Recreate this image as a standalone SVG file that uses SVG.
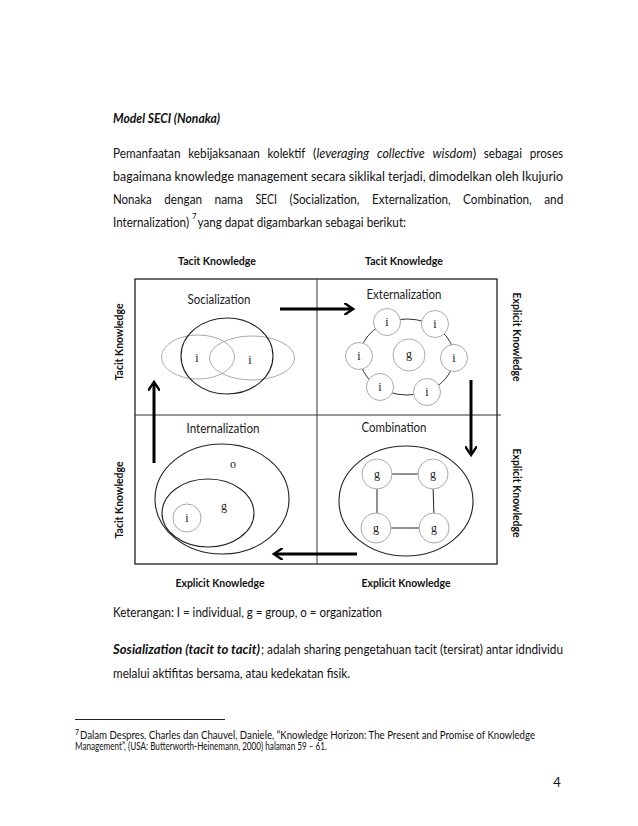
<svg xmlns="http://www.w3.org/2000/svg" width="638" height="826" viewBox="0 0 638 826">
<style>
.body{font-family:Lato,"Liberation Sans",Arial,sans-serif;font-size:13px;fill:#111}
.sup{font-family:Lato,"Liberation Sans",Arial,sans-serif;font-size:8px;fill:#111}
.it{font-style:italic}
.bi{font-style:italic;font-weight:bold}
.ax{font-family:Lato,"Liberation Sans",Arial,sans-serif;font-size:11px;font-weight:bold;fill:#111}
.ql{font-family:Lato,"Liberation Sans",Arial,sans-serif;font-size:12.5px;fill:#222}
.nd{font-family:"Liberation Serif","Times New Roman",serif;font-size:12px;fill:#222}
.fn{font-family:Lato,"Liberation Sans",Arial,sans-serif;font-size:10.5px;fill:#111}
.frame{fill:none;stroke:#222;stroke-width:1.3}
.grid{stroke:#333;stroke-width:1}
.lc{fill:#fff;stroke:#aaa;stroke-width:1}
.dk{fill:none;stroke:#222;stroke-width:1.1}
.arr{stroke:#000;stroke-width:3;fill:none;marker-end:url(#ah)}
</style>
<defs>
<marker id="ah" markerWidth="4" markerHeight="4" refX="2.6" refY="2" orient="auto" markerUnits="strokeWidth">
<path d="M0,0 L3,2 L0,4" fill="none" stroke="#000" stroke-width="0.8"/>
</marker>
</defs>
<rect width="638" height="826" fill="#fff"/>

<g id="text-top">
<text class="body bi" x="113" y="123" textLength="107" lengthAdjust="spacingAndGlyphs">Model SECI (Nonaka)</text>
<g id="line1">
<text class="body" x="113" y="158" textLength="67.5" lengthAdjust="spacingAndGlyphs">Pemanfaatan</text>
<text class="body" x="188.2" y="158" textLength="71.7" lengthAdjust="spacingAndGlyphs">kebijaksanaan</text>
<text class="body" x="267.6" y="158" textLength="37.8" lengthAdjust="spacingAndGlyphs">kolektif</text>
<text class="body" x="313.1" y="158" textLength="56.1" lengthAdjust="spacingAndGlyphs">(<tspan class="it">leveraging</tspan></text>
<text class="body it" x="376.9" y="158" textLength="47.9" lengthAdjust="spacingAndGlyphs">collective</text>
<text class="body" x="432.5" y="158" textLength="43.5" lengthAdjust="spacingAndGlyphs"><tspan class="it">wisdom</tspan>)</text>
<text class="body" x="483.7" y="158" textLength="38.3" lengthAdjust="spacingAndGlyphs">sebagai</text>
<text class="body" x="529.7" y="158" textLength="33.4" lengthAdjust="spacingAndGlyphs">proses</text>
</g>
<text class="body" x="113" y="181" textLength="450" lengthAdjust="spacingAndGlyphs">bagaimana knowledge management secara siklikal terjadi, dimodelkan oleh Ikujurio</text>
<g id="line3">
<text class="body" x="113" y="204" textLength="38.8" lengthAdjust="spacingAndGlyphs">Nonaka</text>
<text class="body" x="164.3" y="204" textLength="37.7" lengthAdjust="spacingAndGlyphs">dengan</text>
<text class="body" x="214.5" y="204" textLength="28.4" lengthAdjust="spacingAndGlyphs">nama</text>
<text class="body" x="255.4" y="204" textLength="21.6" lengthAdjust="spacingAndGlyphs">SECI</text>
<text class="body" x="289.5" y="204" textLength="70" lengthAdjust="spacingAndGlyphs">(Socialization,</text>
<text class="body" x="372" y="204" textLength="78.6" lengthAdjust="spacingAndGlyphs">Externalization,</text>
<text class="body" x="463.1" y="204" textLength="68.6" lengthAdjust="spacingAndGlyphs">Combination,</text>
<text class="body" x="544.2" y="204" textLength="19.1" lengthAdjust="spacingAndGlyphs">and</text>
</g>
<text class="body" x="113" y="227" textLength="76" lengthAdjust="spacingAndGlyphs">Internalization)</text>
<text class="sup" x="192" y="219">7</text>
<text class="body" x="197.5" y="227" textLength="208.5" lengthAdjust="spacingAndGlyphs">yang dapat digambarkan sebagai berikut:</text>
</g>

<g id="axes">
<text class="ax" x="217" y="265" text-anchor="middle" textLength="78" lengthAdjust="spacingAndGlyphs">Tacit Knowledge</text>
<text class="ax" x="404" y="265" text-anchor="middle" textLength="78" lengthAdjust="spacingAndGlyphs">Tacit Knowledge</text>
<text class="ax" x="220" y="587" text-anchor="middle" textLength="89" lengthAdjust="spacingAndGlyphs">Explicit Knowledge</text>
<text class="ax" x="406" y="587" text-anchor="middle" textLength="89" lengthAdjust="spacingAndGlyphs">Explicit Knowledge</text>
<text class="ax" transform="translate(123,342) rotate(-90)" text-anchor="middle" textLength="77" lengthAdjust="spacingAndGlyphs">Tacit Knowledge</text>
<text class="ax" transform="translate(123,500) rotate(-90)" text-anchor="middle" textLength="77" lengthAdjust="spacingAndGlyphs">Tacit Knowledge</text>
<text class="ax" transform="translate(513,337) rotate(90)" text-anchor="middle" textLength="89" lengthAdjust="spacingAndGlyphs">Explicit Knowledge</text>
<text class="ax" transform="translate(513,493) rotate(90)" text-anchor="middle" textLength="89" lengthAdjust="spacingAndGlyphs">Explicit Knowledge</text>
</g>

<g id="frame">
<rect class="frame" x="135" y="279" width="362" height="285"/>
<line class="grid" x1="317" y1="279" x2="317" y2="564"/>
<line class="grid" x1="135" y1="415" x2="501" y2="415"/>
</g>

<g id="socialization">
<text class="ql" x="219" y="304" text-anchor="middle" textLength="63" lengthAdjust="spacingAndGlyphs">Socialization</text>
<ellipse cx="198" cy="357" rx="36.5" ry="22" fill="none" stroke="#aaa" stroke-width="1"/>
<ellipse cx="252" cy="358" rx="42.5" ry="22" fill="none" stroke="#aaa" stroke-width="1"/>
<ellipse cx="227" cy="356" rx="46" ry="38" class="dk" stroke-width="1.4"/>
<text class="nd" x="197" y="362" text-anchor="middle">i</text>
<text class="nd" x="250" y="364" text-anchor="middle">i</text>
</g>

<g id="externalization">
<text class="ql" x="404" y="299" text-anchor="middle" textLength="75" lengthAdjust="spacingAndGlyphs">Externalization</text>
<ellipse cx="407" cy="357" rx="47" ry="38" fill="none" stroke="#333" stroke-width="1"/>
<circle class="lc" cx="387" cy="322" r="13.5"/>
<circle class="lc" cx="435" cy="324" r="13.5"/>
<circle class="lc" cx="359" cy="356" r="13.5"/>
<circle class="lc" cx="454" cy="358" r="13.5"/>
<circle class="lc" cx="380" cy="387" r="13.5"/>
<circle class="lc" cx="427" cy="392" r="13.5"/>
<circle class="lc" cx="409" cy="355" r="16"/>
<text class="nd" x="387" y="326" text-anchor="middle">i</text>
<text class="nd" x="435" y="328" text-anchor="middle">i</text>
<text class="nd" x="359" y="360" text-anchor="middle">i</text>
<text class="nd" x="454" y="362" text-anchor="middle">i</text>
<text class="nd" x="380" y="391" text-anchor="middle">i</text>
<text class="nd" x="427" y="396" text-anchor="middle">i</text>
<text class="nd" x="409" y="358" text-anchor="middle">g</text>
</g>

<g id="internalization">
<text class="ql" x="223" y="433" text-anchor="middle" textLength="73" lengthAdjust="spacingAndGlyphs">Internalization</text>
<ellipse class="dk" cx="222" cy="499" rx="67" ry="55"/>
<ellipse class="dk" cx="208" cy="513" rx="46" ry="34"/>
<circle class="lc" cx="187" cy="518" r="14"/>
<text class="nd" x="233" y="468" text-anchor="middle">o</text>
<text class="nd" x="224" y="510" text-anchor="middle">g</text>
<text class="nd" x="187" y="522" text-anchor="middle">i</text>
</g>

<g id="combination">
<text class="ql" x="394" y="432" text-anchor="middle" textLength="65" lengthAdjust="spacingAndGlyphs">Combination</text>
<ellipse class="dk" cx="406" cy="501" rx="67" ry="55"/>
<g stroke="#222" stroke-width="1">
<line x1="386" y1="474" x2="424" y2="474"/>
<line x1="377" y1="483" x2="377" y2="519"/>
<line x1="433" y1="483" x2="434" y2="519"/>
<line x1="385" y1="528" x2="425" y2="528"/>
</g>
<circle class="lc" cx="377" cy="474" r="15" fill="none"/>
<circle class="lc" cx="433" cy="474" r="15" fill="none"/>
<circle class="lc" cx="376" cy="528" r="15" fill="none"/>
<circle class="lc" cx="434" cy="528" r="15" fill="none"/>
<text class="nd" x="377" y="478" text-anchor="middle">g</text>
<text class="nd" x="433" y="478" text-anchor="middle">g</text>
<text class="nd" x="376" y="532" text-anchor="middle">g</text>
<text class="nd" x="434" y="532" text-anchor="middle">g</text>
</g>

<g id="connectors">
<line class="arr" x1="280" y1="309" x2="352" y2="309"/>
<line class="arr" x1="471" y1="380" x2="471" y2="454"/>
<line class="arr" x1="357" y1="554" x2="275" y2="554"/>
<line class="arr" x1="154" y1="463" x2="154" y2="383"/>
</g>

<g id="text-bottom">
<text class="body" x="113" y="617" textLength="269" lengthAdjust="spacingAndGlyphs">Keterangan: I = individual, g = group, o = organization</text>
<text class="body bi" x="113" y="654" textLength="147" lengthAdjust="spacingAndGlyphs">Sosialization (tacit to tacit)</text>
<text class="body" x="261" y="654" textLength="302" lengthAdjust="spacingAndGlyphs">; adalah sharing pengetahuan tacit (tersirat) antar idndividu</text>
<text class="body" x="113" y="678" textLength="237" lengthAdjust="spacingAndGlyphs">melalui aktifitas bersama, atau kedekatan fisik.</text>
<line x1="75" y1="719.5" x2="225" y2="719.5" stroke="#222" stroke-width="1"/>
<text class="sup" x="75" y="735" style="font-size:7px">7</text>
<text class="fn" x="80" y="739" textLength="455" lengthAdjust="spacingAndGlyphs">Dalam Despres, Charles dan Chauvel, Daniele, “Knowledge Horizon: The Present and Promise of Knowledge</text>
<text class="fn" x="75" y="750" textLength="252" lengthAdjust="spacingAndGlyphs">Management”, (USA: Butterworth-Heinemann, 2000) halaman 59 – 61.</text>
<text class="body" x="557" y="787" text-anchor="middle">4</text>
</g>
</svg>
